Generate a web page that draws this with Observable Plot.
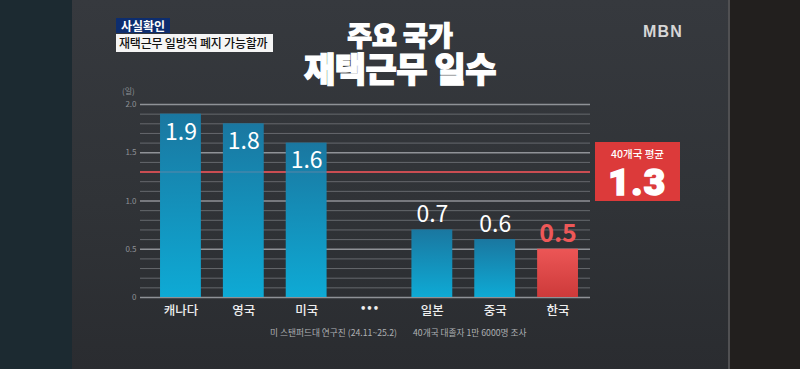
<!DOCTYPE html>
<html><head><meta charset="utf-8">
<script src="https://cdn.jsdelivr.net/npm/d3@7"></script>
<script src="https://cdn.jsdelivr.net/npm/@observablehq/plot@0.6"></script>
<style>
html,body{margin:0;padding:0;width:800px;height:369px;overflow:hidden;background:#1c2a31;}
#stage{position:relative;width:800px;height:369px;font-family:"Noto Sans CJK KR","Noto Sans",sans-serif;}
#left{position:absolute;left:0;top:0;width:72px;height:369px;background:#1c2a31;}
#panel{position:absolute;left:72px;top:0;width:656px;height:369px;background:linear-gradient(180deg,#36393e 0%,#303337 55%,#2a2c30 100%);}
#right{position:absolute;left:728px;top:0;width:72px;height:369px;background:#221f1e;border-left:2px solid #505052;box-sizing:border-box;}
#chart{position:absolute;left:0;top:0;}
.ov{position:absolute;white-space:nowrap;}
#tag{left:116px;top:18px;width:54px;height:15px;background:#0d2d6e;color:#fff;font-weight:700;font-size:12px;line-height:15px;text-align:center;}
#head{left:116px;top:34px;width:157px;height:18px;background:#f5f5f5;color:#111;font-weight:500;font-size:12px;line-height:18px;padding-left:3px;box-sizing:border-box;letter-spacing:-0.2px;}
#title{left:270px;width:260px;top:14px;text-align:center;color:#fff;font-weight:900;white-space:pre-line;font-size:34px;line-height:36px;letter-spacing:-0.5px;-webkit-text-stroke:1.2px #fff;}
#title::first-line{font-size:27px;line-height:28px;letter-spacing:0px;}
#mbn{left:643px;top:22px;color:#d6d6d6;font-family:"Liberation Sans",Arial,sans-serif;font-weight:700;font-size:16px;line-height:20px;letter-spacing:1.2px;}
#unit{left:122px;top:86px;color:#8e9196;font-size:8px;line-height:10px;}
#avg{left:595px;top:142px;width:85px;height:59px;background:#dc3a3a;color:#fff;text-align:center;}
#avgL{position:absolute;left:0;top:5px;width:85px;height:14px;font-size:10.5px;line-height:14px;font-weight:500;}
#avgV{position:absolute;left:0;top:23px;width:85px;height:36px;font-family:Roboto,"Liberation Sans",sans-serif;font-size:37px;line-height:36px;font-weight:900;letter-spacing:1.5px;-webkit-text-stroke:1.6px #fff;}
.src{top:327px;color:#aeb0b3;font-size:8.7px;line-height:12px;}
</style></head>
<body>
<div id="stage">
  <div id="left"></div><div id="panel"></div><div id="right"></div>
  <div id="chart"></div>
  <div class="ov" id="tag"></div>
  <div class="ov" id="head"></div>
  <div class="ov" id="title"></div>
  <div class="ov" id="mbn"></div>
  <div class="ov" id="unit"></div>
  <div class="ov" id="avg"><div id="avgL"></div><div id="avgV"></div></div>
  <div class="ov src" id="src1" style="left:270px"></div>
  <div class="ov src" id="src2" style="left:413px"></div>
</div>
<script>
const gapCategory = "…";
const categories = ["캐나다", "영국", "미국", gapCategory, "일본", "중국", "한국"];
const countries = ["캐나다", "영국", "미국", "일본", "중국", "한국"];
const days = [1.9, 1.8, 1.6, 0.7, 0.6, 0.5];
const highlight = "한국";
const average = 1.3;
const yMajorTicks = [0, 0.5, 1, 1.5, 2];
const yTickLabels = ["0", "0.5", "1.0", "1.5", "2.0"];
const yMinorTicks = [0.1, 0.2, 0.3, 0.4, 0.6, 0.7, 0.8, 0.9, 1.1, 1.2, 1.4, 1.6, 1.7, 1.8, 1.9];
const titleLines = ["주요 국가", "재택근무 일수"];
const texts = {
  tag: "사실확인",
  head: "재택근무 일방적 폐지 가능할까",
  mbn: "MBN",
  unit: "(일)",
  avgL: "40개국 평균",
  src1: "미 스탠퍼드대 연구진 (24.11~25.2)",
  src2: "40개국 대졸자 1만 6000명 조사"
};

const data = countries.map((c, i) => ({country: c, days: days[i]}));
const others = data.filter(d => d.country !== highlight);
const hi = data.filter(d => d.country === highlight);

const chart = Plot.plot({
  width: 800,
  height: 369,
  marginLeft: 140,
  marginRight: 210,
  marginTop: 104,
  marginBottom: 72,
  style: {background: "transparent", fontFamily: "'Noto Sans CJK KR', 'Noto Sans', sans-serif", overflow: "visible"},
  x: {type: "band", domain: categories, paddingInner: 0.35, paddingOuter: 0.255, align: 0.625, round: false},
  y: {domain: [0, 2]},
  marks: [
    Plot.ruleY(yMinorTicks, {stroke: "#65686d", strokeWidth: 1}),
    Plot.ruleY(yMajorTicks, {stroke: "#8f9297", strokeWidth: 1.5}),
    Plot.ruleY([average], {stroke: "#d23c3c", strokeWidth: 2}),
    Plot.barY(others, {x: "country", y: "days", fill: "url(#gBlue)"}),
    Plot.barY(hi, {x: "country", y: "days", fill: "url(#gRed)"}),
    Plot.ruleY([average], {stroke: "#b08aa0", strokeWidth: 1.5, strokeOpacity: 0.3}),
    Plot.text(others.filter(d => d.days > average), {x: "country", y: "days", text: d => d.days.toFixed(1), dy: 18, fill: "#ffffff", fontSize: 23}),
    Plot.text(others.filter(d => d.days <= average), {x: "country", y: "days", text: d => d.days.toFixed(1), dy: -15, fill: "#ffffff", fontSize: 23}),
    Plot.text(hi, {x: "country", y: "days", text: d => d.days.toFixed(1), dy: -15, fill: "#ee5858", fontSize: 25, fontWeight: 700}),
    Plot.axisX({tickSize: 0, tickPadding: 9, fontSize: 12.5, color: "#eeeeee", fontWeight: 500, label: null,
      tickFormat: d => d === gapCategory ? "" : d}),
    Plot.text([gapCategory], {x: d => d, frameAnchor: "bottom", dy: 14, text: () => "•••", fill: "#eeeeee",
      fontSize: 10, fontWeight: 700, fontFamily: "DejaVu Sans"}),
    Plot.axisY(yMajorTicks, {tickSize: 0, tickPadding: 4, fontSize: 8, color: "#8e9196", label: null,
      tickFormat: d => yTickLabels[yMajorTicks.indexOf(d)]})
  ]
});

const svg = d3.select(chart);
const defs = svg.insert("defs", ":first-child");
const gb = defs.append("linearGradient").attr("id", "gBlue").attr("x1", 0).attr("y1", 0).attr("x2", 0).attr("y2", 1);
gb.append("stop").attr("offset", "0%").attr("stop-color", "#1a77a0");
gb.append("stop").attr("offset", "100%").attr("stop-color", "#0eaad5");
const gr = defs.append("linearGradient").attr("id", "gRed").attr("x1", 0).attr("y1", 0).attr("x2", 0).attr("y2", 1);
gr.append("stop").attr("offset", "0%").attr("stop-color", "#ec5656");
gr.append("stop").attr("offset", "100%").attr("stop-color", "#cd3a3a");

document.getElementById("chart").appendChild(chart);
for (const k in texts) document.getElementById(k).textContent = texts[k];
document.getElementById("title").textContent = titleLines.join("\n");
document.getElementById("avgV").textContent = average.toFixed(1);
</script>
</body></html>
